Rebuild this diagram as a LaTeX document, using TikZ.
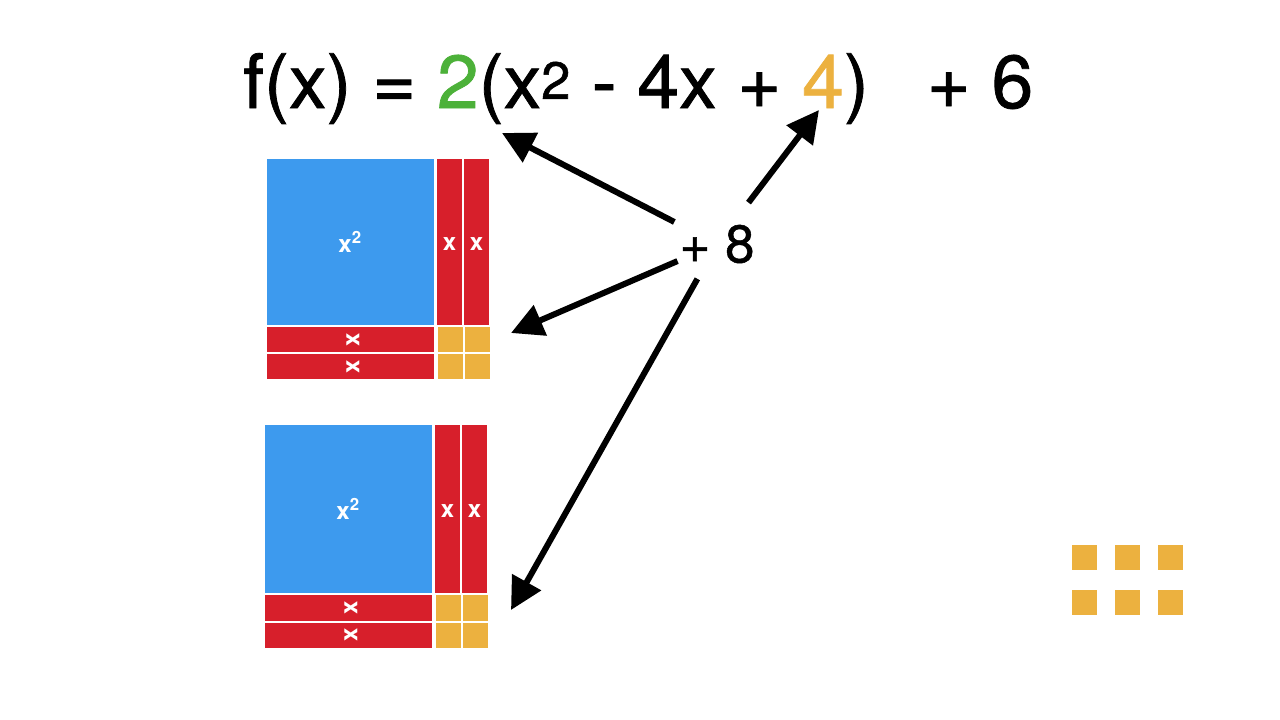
\documentclass[tikz,border=0pt]{standalone}
\usepackage{fontspec}
\setmainfont{TeX Gyre Heros}
\usepackage{xcolor}
\usetikzlibrary{arrows.meta}
\definecolor{tileblue}{HTML}{3D9AEE}
\definecolor{tilered}{HTML}{D71F2B}
\definecolor{tileyellow}{HTML}{ECB13F}
\definecolor{coefgreen}{HTML}{4CB139}
\tikzset{
  bigtext/.style={font=\fontsize{75}{80}\selectfont\addfontfeature{FakeBold=1}, inner sep=0pt},
  tilelabel/.style={text=white, font=\fontsize{24}{26}\selectfont\bfseries, inner sep=0pt},
  arr/.style={->, line width=6pt},
}

\begin{document}
\begin{tikzpicture}[x=1pt, y=-1pt, >={Triangle[length=32pt,width=32pt]}]
\useasboundingbox[fill=white] (0,0) rectangle (1280,720);

% ---- Equation ----
\node[bigtext, anchor=base west] (fx) at (243,108)
  {f(x) = \textcolor{coefgreen}{2}(x\textsuperscript{2} - 4x + \textcolor{tileyellow}{4})\hspace{58pt}+ 6};

% ---- Algebra tiles, two copies ----
\foreach \n/\ox/\oy/\sy in {1/267/159/1, 2/265/425/1.013}{
  \begin{scope}[shift={(\ox,\oy)}, yscale=\sy]
    % x^2 square
    \fill[tileblue] (0,0) rectangle (167,166);
    \node[tilelabel] (sq\n) at (83,83) {x\textsuperscript{2}};
    % vertical x bars
    \fill[tilered] (170,0) rectangle (195,166);
    \fill[tilered] (197,0) rectangle (222,166);
    \node[tilelabel] (va\n) at (182.5,85) {x};
    \node[tilelabel] (vb\n) at (209.5,85) {x};
    % horizontal x bars
    \fill[tilered] (0,168) rectangle (167,193);
    \fill[tilered] (0,195) rectangle (167,220);
    \node[tilelabel, rotate=90] (ha\n) at (86,180.5) {x};
    \node[tilelabel, rotate=90] (hb\n) at (86,207.5) {x};
    % unit squares
    \fill[tileyellow] (171,168) rectangle (196,193);
    \fill[tileyellow] (198,168) rectangle (223,193);
    \fill[tileyellow] (171,195) rectangle (196,220);
    \fill[tileyellow] (198,195) rectangle (223,220);
  \end{scope}
}

% ---- Six leftover units ----
\foreach \ux in {1072,1115,1158}{
  \foreach \uy in {545,590}{
    \fill[tileyellow] (\ux,\uy) rectangle ++(25,25);
  }
}

% ---- +8 and its arrows ----
\node[font=\fontsize{53}{56}\selectfont\addfontfeature{FakeBold=1}, inner sep=0pt] (plus8) at (717,244) {+ 8};

\coordinate (t1) at (502,133);
\coordinate (t2) at (819,110);
\coordinate (t3) at (511,333);
\coordinate (t4) at (511,610);

\draw[arr, shorten <=48pt] (plus8.center) -- (t1);
\draw[arr, shorten <=52pt] (plus8.center) -- (t2);
\draw[arr, shorten <=43pt] (plus8.center) -- (t3);
\draw[arr, shorten <=40pt] (plus8.center) -- (t4);

\end{tikzpicture}
\end{document}
